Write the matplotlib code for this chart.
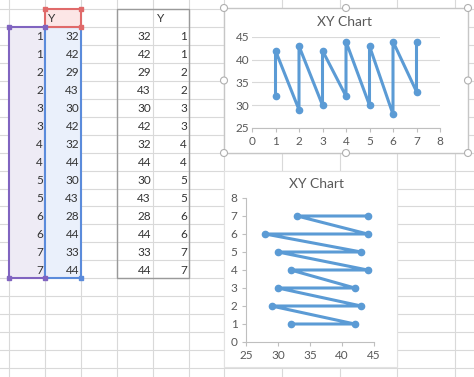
import matplotlib.pyplot as plt
from matplotlib.patches import Rectangle, Circle

plt.rcParams['font.family'] = ['Lato', 'DejaVu Sans']

# data from the sheet
x_vals = [1, 1, 2, 2, 3, 3, 4, 4, 5, 5, 6, 6, 7, 7]
y_vals = [32, 42, 29, 43, 30, 42, 32, 44, 30, 43, 28, 44, 33, 44]
header = 'Y'
chart_title = 'XY Chart'
x_ticks_1 = [0, 1, 2, 3, 4, 5, 6, 7, 8]
y_ticks_1 = [25, 30, 35, 40, 45]
x_ticks_2 = [25, 30, 35, 40, 45]
y_ticks_2 = [0, 1, 2, 3, 4, 5, 6, 7, 8]

W, H = 474, 377
col_edges = [9, 45, 81, 117, 153, 189, 224, 282, 340, 397, 455]
row_top, row_h = 9, 17.95

blue = '#5B9BD5'
txt_c = '#595959'
grid_c = '#D9D9D9'


def fig_rect(x0, y0, x1, y1):
    return [x0 / W, 1 - y1 / H, (x1 - x0) / W, (y1 - y0) / H]


fig = plt.figure(figsize=(W / 100, H / 100), dpi=100)
sheet = fig.add_axes([0, 0, 1, 1])
sheet.set_xlim(0, W)
sheet.set_ylim(H, 0)
sheet.axis('off')

# cell grid
for x in col_edges:
    sheet.axvline(x, color=grid_c, lw=0.8, zorder=1)
for k in range(-1, 21):
    sheet.axhline(row_top + k * row_h, color=grid_c, lw=0.8, zorder=1)

n = len(x_vals)
bottom = row_top + (n + 1) * row_h

# selections
sheet.add_patch(Rectangle((9, row_top + row_h), 36, n * row_h, facecolor='#EEEBF5',
                          edgecolor='#8064C0', lw=1.5, zorder=2))
sheet.add_patch(Rectangle((45, row_top + row_h), 36, n * row_h, facecolor='#EAF0FB',
                          edgecolor='#5B8BDB', lw=1.5, zorder=2))
sheet.add_patch(Rectangle((45, row_top), 36, row_h, facecolor='#FCE6E6',
                          edgecolor='#E06A6A', lw=1.5, zorder=3))
sheet.add_patch(Rectangle((117, row_top), 72, (n + 1) * row_h, facecolor='none',
                          edgecolor='#9A9A9A', lw=1.0, zorder=3))
for (hx, hy, hc) in [(9, 27, '#8064C0'), (45, 27, '#8064C0'), (9, bottom, '#8064C0'),
                     (45, bottom, '#8064C0'), (81, bottom, '#5B8BDB'),
                     (45, 9, '#E06A6A'), (81, 9, '#E06A6A'), (81, 27, '#E06A6A')]:
    sheet.add_patch(Rectangle((hx - 2, hy - 2), 4, 4, color=hc, zorder=4))

# cell text
sheet.text(48, row_top + row_h / 2 + 1, header, fontsize=8.5, color='#333333',
           va='center', ha='left', zorder=5)
sheet.text(157, row_top + row_h / 2 + 1, header, fontsize=8.5, color='#333333',
           va='center', ha='left', zorder=5)
for i in range(n):
    yc = row_top + (i + 1.5) * row_h + 1
    for xr, v in [(43, x_vals[i]), (79, y_vals[i]), (151, y_vals[i]), (187, x_vals[i])]:
        sheet.text(xr, yc, str(v), fontsize=8.5, color='#333333', va='center',
                   ha='right', zorder=5)

# chart frames
sheet.add_patch(Rectangle((224, 8), 244, 145, facecolor='white', edgecolor='#C6C6C6',
                          lw=1.0, zorder=6))
for cx, cy in [(224, 8), (346, 8), (468, 8), (224, 80.5), (468, 80.5),
               (224, 153), (346, 153), (468, 153)]:
    sheet.add_patch(Circle((cx, cy), 3.5, facecolor='white', edgecolor='#B0B0B0',
                           lw=0.8, zorder=7))
sheet.add_patch(Rectangle((224, 171), 173, 196, facecolor='white', edgecolor='#E2E2E2',
                          lw=0.8, zorder=6))
sheet.text(345, 22, chart_title, fontsize=10, color=txt_c, ha='center', va='center', zorder=8)
sheet.text(317, 184, chart_title, fontsize=10, color=txt_c, ha='center', va='center', zorder=8)

# chart 1: Y against X
ax1 = fig.add_axes(fig_rect(252, 37, 440, 128))
ax1.patch.set_alpha(0)
ax1.plot(x_vals, y_vals, color=blue, lw=2.2, marker='o', ms=4.5, zorder=3, clip_on=False)
ax1.set_xlim(0, 8)
ax1.set_ylim(25, 45)
ax1.set_xticks(x_ticks_1)
ax1.set_yticks(y_ticks_1)
ax1.grid(axis='y', color=grid_c, lw=0.8)
for s in ['top', 'right', 'left']:
    ax1.spines[s].set_visible(False)
ax1.spines['bottom'].set_color('#BFBFBF')
ax1.tick_params(axis='x', length=3, color='#BFBFBF', labelsize=8.5, labelcolor=txt_c, pad=3)
ax1.tick_params(axis='y', length=0, labelsize=8.5, labelcolor=txt_c, pad=2)

# chart 2: X against Y
ax2 = fig.add_axes(fig_rect(246, 198, 374, 342))
ax2.patch.set_alpha(0)
ax2.plot(y_vals, x_vals, color=blue, lw=2.2, marker='o', ms=4.5, zorder=3, clip_on=False)
ax2.set_xlim(25, 45)
ax2.set_ylim(0, 8)
ax2.set_xticks(x_ticks_2)
ax2.set_yticks(y_ticks_2)
for s in ['top', 'right']:
    ax2.spines[s].set_visible(False)
for s in ['left', 'bottom']:
    ax2.spines[s].set_color('#BFBFBF')
ax2.tick_params(length=3, color='#BFBFBF', labelsize=8.5, labelcolor=txt_c, pad=3)

fig.savefig('out.png', dpi=100)
